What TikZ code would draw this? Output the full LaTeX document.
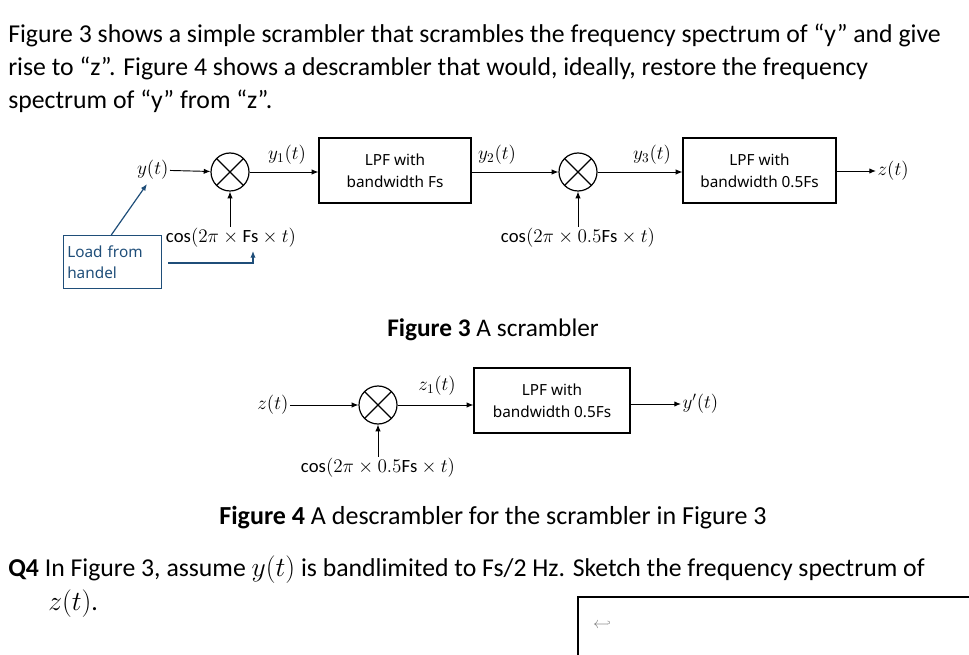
\documentclass[tikz,border=0pt]{standalone}
\usepackage{fontspec}
\setmainfont{Carlito}
\newfontfamily\lbl{Noto Sans}
\usetikzlibrary{arrows.meta}
\definecolor{bl}{RGB}{31,78,121}
\begin{document}
\begin{tikzpicture}[x=0.75pt,y=-0.75pt,
  mix/.style={circle,draw,line width=0.9pt,minimum size=28.5pt,inner sep=0pt,path picture={
    \draw[line width=0.9pt] (path picture bounding box.south west)++(4.2pt,4.2pt)--([xshift=-4.2pt,yshift=-4.2pt]path picture bounding box.north east);
    \draw[line width=0.9pt] ([xshift=4.2pt,yshift=-4.2pt]path picture bounding box.north west)--([xshift=-4.2pt,yshift=4.2pt]path picture bounding box.south east);}},
  box/.style={draw,line width=0.9pt,inner sep=0pt,font=\lbl\fontsize{11.5}{16.5}\selectfont,align=center},
  lab/.style={inner sep=1pt,font=\fontsize{14}{16}\selectfont},
  arr/.style={-{Latex[length=5pt,width=4pt]},line width=0.7pt},
  body/.style={anchor=west,inner sep=0pt,font=\fontsize{19.3}{22}\selectfont}]
\useasboundingbox (0,0) rectangle (969,655);
\node[body] (t1) at (8,35) {Figure 3 shows a simple scrambler that scrambles the frequency spectrum of “y” and give};
\node[body] (t2) at (8,68) {rise to “z”. Figure 4 shows a descrambler that would, ideally, restore the frequency};
\node[body] (t3) at (8,101) {spectrum of “y” from “z”.};
% Figure 3
\node[lab,anchor=east] (y) at (170,170) {$y(t)$};
\node[mix] (m1) at (230,172) {};
\node[box,minimum width=114pt,minimum height=48.75pt] (f1) at (395,170.5) {LPF with\\bandwidth Fs};
\node[mix] (m2) at (578,172) {};
\node[box,minimum width=114.75pt,minimum height=48.75pt] (f2) at (759.5,170.5) {LPF with\\bandwidth 0.5Fs};
\node[lab,anchor=west] (z) at (876,171) {$z(t)$};
\node[lab] (y1) at (287,155) {$y_1(t)$};
\node[lab] (y2) at (497,155) {$y_2(t)$};
\node[lab] (y3) at (652,155) {$y_3(t)$};
\node[lab] (c1) at (231,238) {$\cos(2\pi\times \mathrm{Fs}\times t)$};
\node[lab] (c2) at (578,238) {$\cos(2\pi\times 0.5\mathrm{Fs}\times t)$};
\draw[arr] (y) -- (m1);
\draw[arr] (m1) -- (f1.west|-m1);
\draw[arr] (f1.east|-m2) -- (m2);
\draw[arr] (m2) -- (f2.west|-m2);
\draw[arr] (f2.east|-z) -- (z);
\draw[arr] (c1.north-|m1) -- (m1);
\draw[arr] (c2.north) -- (m2);
\node[draw=bl,line width=0.9pt,text=bl,font=\lbl\fontsize{11.5}{16}\selectfont,align=left,anchor=north west,minimum width=73.5pt,minimum height=39.75pt,text width=68pt,inner sep=2.5pt] (ld) at (63,235) {Load from\\handel};
\coordinate (p1) at (168,263);
\coordinate (p2) at (253,263);
\coordinate (p3) at (253,251);
\draw[bl,line width=0.9pt,-{Latex[length=5pt,width=4pt]}] (ld.north)++(-1pt,0) -- (147,184);
\draw[bl,line width=0.9pt,-{Latex[length=5pt,width=4pt]}] (p1) -- (p2) -- (p3);
\node[inner sep=0pt,font=\fontsize{19}{22}\selectfont] (cap3) at (493,330) {\textbf{Figure 3} A scrambler};
% Figure 4
\node[lab,anchor=east] (zz) at (290,405) {$z(t)$};
\node[mix] (m3) at (378,405) {};
\node[lab] (z1) at (437,386) {$z_1(t)$};
\node[box,minimum width=117pt,minimum height=48.75pt] (f3) at (552,400.5) {LPF with\\bandwidth 0.5Fs};
\node[lab,anchor=west] (yp) at (681,404) {$y'(t)$};
\node[lab] (c3) at (378,468) {$\cos(2\pi\times 0.5\mathrm{Fs}\times t)$};
\draw[arr] (zz) -- (m3);
\draw[arr] (m3) -- (f3.west|-m3);
\draw[arr] (f3.east|-yp) -- (yp);
\draw[arr] (c3.north) -- (m3);
\node[inner sep=0pt,font=\fontsize{19.5}{22}\selectfont] (cap4) at (493,518) {\textbf{Figure 4} A descrambler for the scrambler in Figure 3};
% Q4
\node[body] (q4) at (8,570) {\textbf{Q4} In Figure 3, assume $y(t)$ is bandlimited to Fs/2 Hz. Sketch the frequency spectrum of};
\node[body] (q4b) at (48,604) {$z(t)$.};
\draw[line width=0.9pt] (578,597) rectangle (975,660);
\node[text=gray,font=\fontsize{12}{12}\selectfont,inner sep=0pt] (rt) at (602,625) {$\hookleftarrow$};
\end{tikzpicture}
\end{document}
